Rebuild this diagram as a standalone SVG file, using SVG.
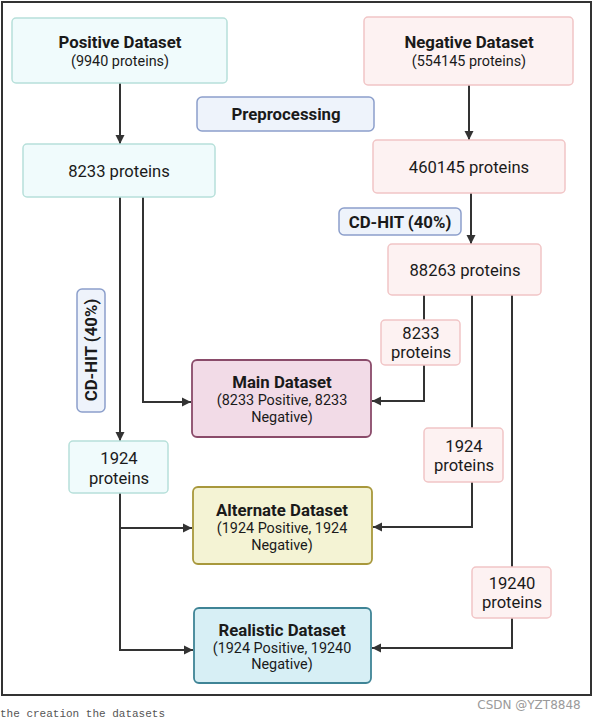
<svg xmlns="http://www.w3.org/2000/svg" width="595" height="719" viewBox="0 0 595 719">
<style>
text{font-family:Roboto,"Liberation Sans",sans-serif;fill:#1a1a1a;text-anchor:middle}
.t{font-size:16.8px;font-weight:bold}
.s{font-size:14.4px}
.n{font-size:16.6px}
.pos{fill:#f0fbfc;stroke:#b7e0da;stroke-width:1.5}
.neg{fill:#fdf2f2;stroke:#f1c5c6;stroke-width:1.5}
.lab{fill:#eef3fb;stroke:#8c9fcb;stroke-width:1.5}
.c{fill:none;stroke:#333;stroke-width:2}
</style>
<defs>
<marker id="ah" markerUnits="userSpaceOnUse" markerWidth="10" markerHeight="10" refX="9" refY="5" orient="auto">
<path d="M0,0.5 L9,5 L0,9.5 Z" fill="#333"/>
</marker>
</defs>
<rect x="2" y="2" width="589" height="693" fill="#fff" stroke="#333" stroke-width="2"/>

<g id="connectors">
<path class="c" d="M120,83 V144" marker-end="url(#ah)"/>
<path class="c" d="M469,85 V140" marker-end="url(#ah)"/>
<path class="c" d="M471,193 V244" marker-end="url(#ah)"/>
<path class="c" d="M120,197 V441" marker-end="url(#ah)"/>
<path class="c" d="M143,197 V402 H191" marker-end="url(#ah)"/>
<path class="c" d="M120,493 V650 H193" marker-end="url(#ah)"/>
<path class="c" d="M120,528 H192"  marker-end="url(#ah)"/>
<path class="c" d="M424,295 V320"/>
<path class="c" d="M424,365 V401 H372" marker-end="url(#ah)"/>
<path class="c" d="M472,295 V428"/>
<path class="c" d="M472,482 V527 H373" marker-end="url(#ah)"/>
<path class="c" d="M512,295 V567"/>
<path class="c" d="M512,618 V648 H372" marker-end="url(#ah)"/>
</g>

<g id="positive-dataset">
<rect class="pos" x="12" y="18" width="215" height="65" rx="4"/>
<text class="t" x="120" y="48">Positive Dataset</text>
<text class="s" x="120" y="66">(9940 proteins)</text>
</g>
<g id="negative-dataset">
<rect class="neg" x="364" y="17" width="209" height="68" rx="4"/>
<text class="t" x="469" y="48">Negative Dataset</text>
<text class="s" x="469" y="66">(554145 proteins)</text>
</g>
<g id="preprocessing">
<rect class="lab" x="197" y="97" width="177" height="34" rx="5"/>
<text class="t" x="286" y="120">Preprocessing</text>
</g>
<g id="pos-8233">
<rect class="pos" x="23" y="144" width="192" height="53" rx="4"/>
<text class="n" x="119" y="177">8233 proteins</text>
</g>
<g id="neg-460145">
<rect class="neg" x="373" y="140" width="192" height="53" rx="4"/>
<text class="n" x="469" y="173">460145 proteins</text>
</g>
<g id="cdhit-neg">
<rect class="lab" x="339" y="208" width="122" height="27" rx="5"/>
<text class="t" x="400" y="227.5">CD-HIT (40%)</text>
</g>
<g id="neg-88263">
<rect class="neg" x="388" y="244" width="153" height="51" rx="4"/>
<text class="n" x="465" y="276">88263 proteins</text>
</g>
<g id="cdhit-pos">
<rect class="lab" x="77" y="289" width="28" height="123" rx="5"/>
<text class="t" transform="translate(97,350) rotate(-90)">CD-HIT (40%)</text>
</g>
<g id="neg-8233">
<rect class="neg" x="381" y="320" width="79" height="45" rx="4"/>
<text class="n" x="421" y="339">8233</text>
<text class="n" x="421" y="358">proteins</text>
</g>
<g id="main-dataset">
<rect x="192" y="360" width="179" height="77" rx="5" fill="#f2dbe7" stroke="#8a4b6a" stroke-width="1.8"/>
<text class="t" x="282" y="388">Main Dataset</text>
<text class="s" x="282" y="405">(8233 Positive, 8233</text>
<text class="s" x="282" y="422">Negative)</text>
</g>
<g id="pos-1924">
<rect class="pos" x="69" y="441" width="99" height="52" rx="4"/>
<text class="n" x="119" y="464">1924</text>
<text class="n" x="119" y="484">proteins</text>
</g>
<g id="neg-1924">
<rect class="neg" x="424" y="428" width="79" height="54" rx="4"/>
<text class="n" x="464" y="452">1924</text>
<text class="n" x="464" y="471">proteins</text>
</g>
<g id="alternate-dataset">
<rect x="193" y="487" width="179" height="77" rx="5" fill="#f4f3d4" stroke="#a8983c" stroke-width="1.8"/>
<text class="t" x="282" y="516">Alternate Dataset</text>
<text class="s" x="282" y="533">(1924 Positive, 1924</text>
<text class="s" x="282" y="550">Negative)</text>
</g>
<g id="neg-19240">
<rect class="neg" x="472" y="567" width="79" height="51" rx="4"/>
<text class="n" x="512" y="589">19240</text>
<text class="n" x="512" y="608">proteins</text>
</g>
<g id="realistic-dataset">
<rect x="194" y="608" width="177" height="75" rx="5" fill="#d7eff5" stroke="#3f8496" stroke-width="1.8"/>
<text class="t" x="282" y="636">Realistic Dataset</text>
<text class="s" x="282" y="653">(1924 Positive, 19240</text>
<text class="s" x="282" y="669">Negative)</text>
</g>

<text x="529" y="709" style="font-size:12px;fill:#9a9a9a;font-family:'DejaVu Sans',sans-serif">CSDN @YZT8848</text>
<text x="0" y="717" style="font-size:11px;fill:#555;text-anchor:start;font-family:'Liberation Mono',monospace">the creation the datasets</text>
</svg>
